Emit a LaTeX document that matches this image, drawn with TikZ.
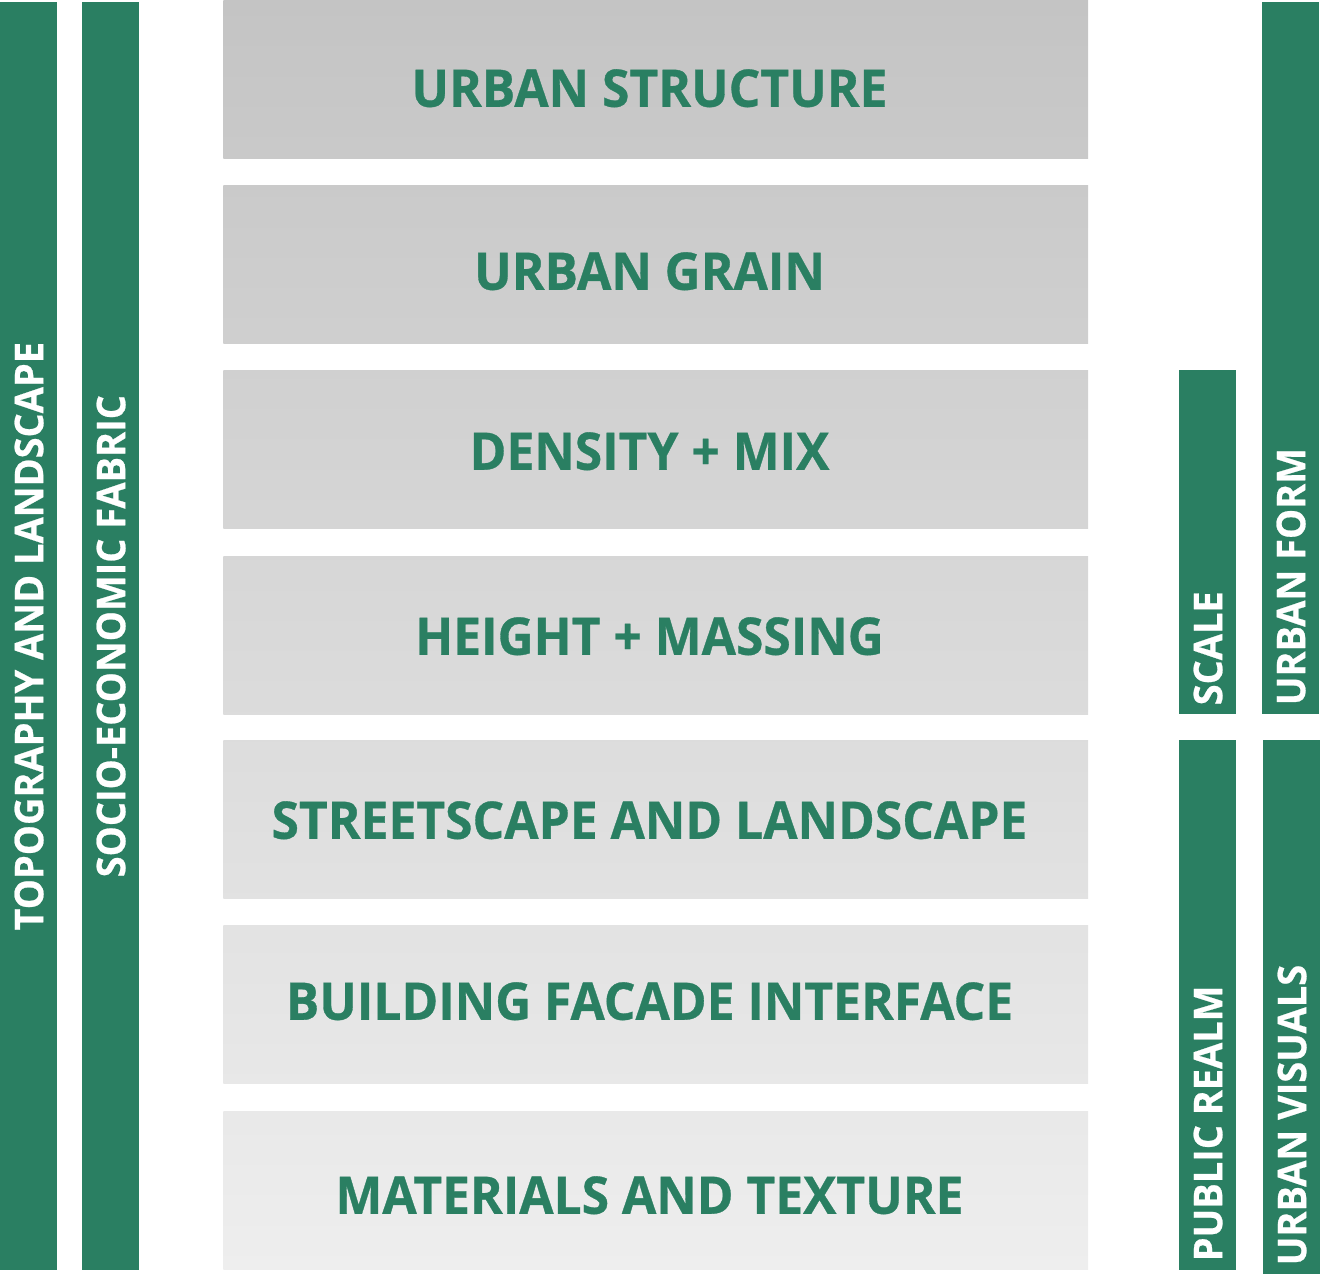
\documentclass[tikz,border=0pt]{standalone}
\usepackage{fontspec}
\newfontfamily\diagfont{Open Sans}[FakeStretch=0.96,FakeBold=0.6]
\usetikzlibrary{positioning}

\definecolor{urbangreen}{HTML}{2A7F62}
\definecolor{greytop}{HTML}{C4C4C4}
\definecolor{greybot}{HTML}{EEEEEE}

\begin{document}
\begin{tikzpicture}[x=0.02cm,y=-0.02cm,
	layer/.style={inner sep=0, minimum width=17.3cm, minimum height=3.16cm, anchor=north west},
	layertext/.style={text=urbangreen, inner sep=0, text depth=0pt, font=\diagfont\bfseries\fontsize{29.5}{30}\selectfont},
	bar/.style={fill=urbangreen, inner sep=0, minimum width=1.14cm, anchor=north west},
	bartext/.style={text=white, rotate=90, inner sep=0, text depth=0pt, font=\diagfont\bfseries\fontsize{22.5}{23}\selectfont}]

\useasboundingbox (0,0) rectangle (1320,1274);

% layers
\foreach[count=\c] \y/\ty/\txt in {0/88/URBAN STRUCTURE,185/271/URBAN GRAIN,370/451/DENSITY + MIX,556/636/HEIGHT + MASSING,740/820/STREETSCAPE AND LANDSCAPE,925/1001/BUILDING FACADE INTERFACE,1111/1195/MATERIALS AND TEXTURE}{
	\pgfmathsetmacro\ptop{\y/12.7}
	\pgfmathsetmacro\pbot{(\y+158)/12.7}
	\node[layer,top color=greybot!\ptop!greytop,bottom color=greybot!\pbot!greytop](layer\c) at (223,\y){};
	\node[layertext](label\c) at (649.5,\ty){\txt};
}

% left bars
\foreach \x/\y/\h/\n/\txt in {0/2/25.36/topo/TOPOGRAPHY AND LANDSCAPE,82/2/25.36/socio/SOCIO-ECONOMIC FABRIC}{
	\node[bar,minimum height=\h cm](\n) at (\x,\y){};
	\node[bartext](\n text) at (\n.center){\txt};
}

% right bars
\foreach \x/\y/\h/\n/\txt in {1179/370/6.88/scale/SCALE,1262/2/14.24/form/URBAN FORM,1179/740/10.6/realm/PUBLIC REALM,1263/740/10.68/visuals/URBAN VISUALS}{
	\node[bar,minimum height=\h cm](\n) at (\x,\y){};
	\node[bartext,anchor=west](\n text) at ([yshift=0.18cm]\n.south){\txt};
}
\end{tikzpicture}
\end{document}
